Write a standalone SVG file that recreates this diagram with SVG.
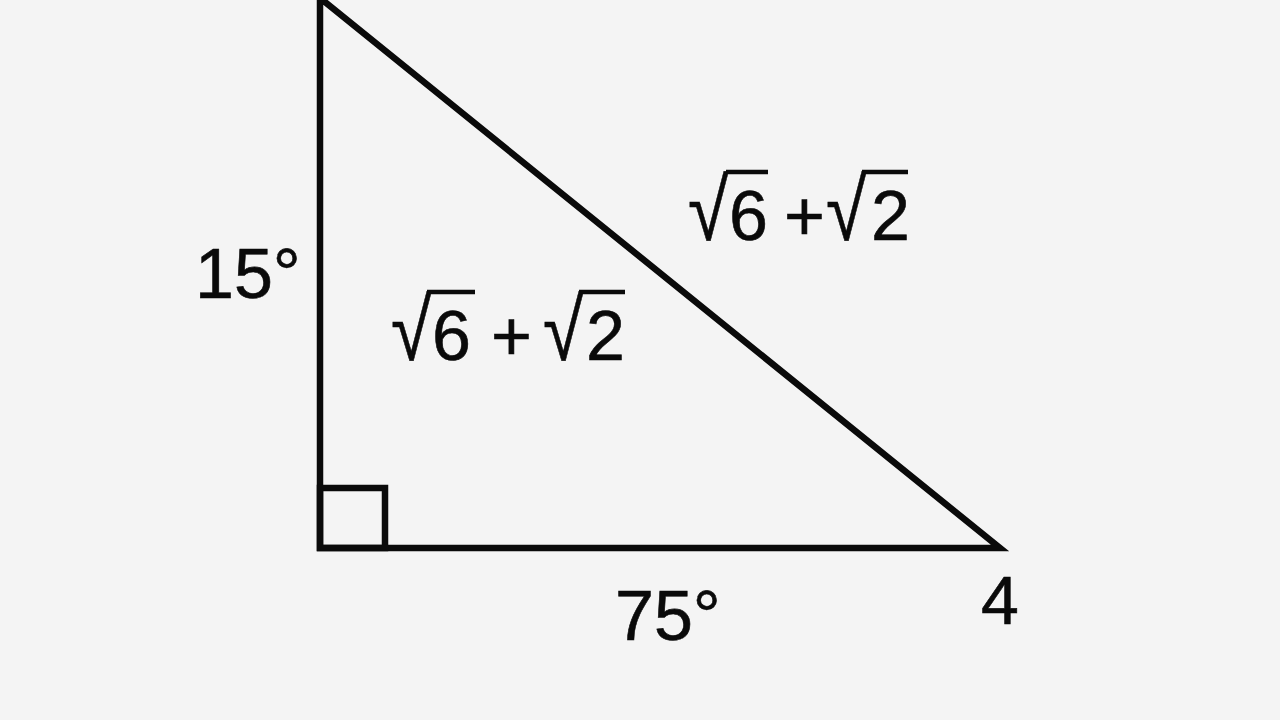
<svg xmlns="http://www.w3.org/2000/svg" width="1280" height="720" viewBox="0 0 1280 720">
<style>
.t{font-family:"Liberation Sans",Arial,sans-serif;fill:#0a0a0a;stroke:#0a0a0a;stroke-width:0.6;}
.r{font-family:"Liberation Sans",Arial,sans-serif;fill:#0a0a0a;stroke:#0a0a0a;stroke-width:0.6;font-size:87px;}
.ln{stroke:#0a0a0a;fill:none;stroke-width:6.5;}
.bar{stroke:#0a0a0a;stroke-width:4.5;}
</style>
<rect width="1280" height="720" fill="#f4f4f4"/>
<g id="triangle">
<polygon class="ln" points="320,-2 320,548 1000,548" stroke-linejoin="miter"/>
<rect class="ln" x="320" y="488" width="65" height="60"/>
</g>
<g id="label-15"><text class="t" x="195" y="298" font-size="70">15°</text></g>
<g id="label-75"><text class="t" x="615" y="640" font-size="70">75°</text></g>
<g id="label-4"><text class="t" x="981" y="624" font-size="68">4</text></g>
<g id="label-hyp">
<text class="r" transform="translate(688,240) scale(0.85,1)">√</text>
<line class="bar" x1="726" y1="172" x2="768" y2="172"/>
<text class="t" x="729" y="240" font-size="70">6</text>
<text class="t" x="784" y="240" font-size="70">+</text>
<text class="r" transform="translate(826,240) scale(0.85,1)">√</text>
<line class="bar" x1="862" y1="172" x2="908" y2="172"/>
<text class="t" x="871" y="240" font-size="70">2</text>
</g>
<g id="label-inner">
<text class="r" transform="translate(391,360) scale(0.85,1)">√</text>
<line class="bar" x1="427" y1="292" x2="475" y2="292"/>
<text class="t" x="432" y="360" font-size="70">6</text>
<text class="t" x="491" y="360" font-size="70">+</text>
<text class="r" transform="translate(543,360) scale(0.85,1)">√</text>
<line class="bar" x1="579" y1="292" x2="625" y2="292"/>
<text class="t" x="586" y="360" font-size="70">2</text>
</g>
</svg>
